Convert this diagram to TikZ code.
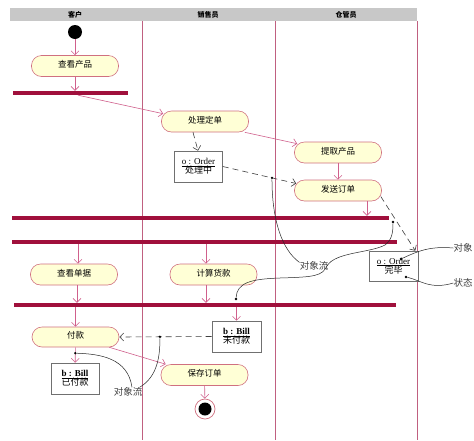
\documentclass[tikz,border=0pt]{standalone}
\usepackage{fontspec}
\setmainfont{Liberation Serif}
\newfontfamily\cjk{Noto Sans CJK SC}
\usetikzlibrary{arrows.meta,calc}
\definecolor{actb}{HTML}{D07080}
\definecolor{actf}{HTML}{FFFFD6}
\definecolor{arrc}{HTML}{D0608C}
\definecolor{barc}{HTML}{A0103C}
\definecolor{lanec}{HTML}{C06080}
\definecolor{hdrc}{HTML}{C8C8C8}
\definecolor{objb}{HTML}{707070}
\begin{document}
\begin{tikzpicture}[x=1pt,y=-1pt,
  act/.style={draw=actb, fill=actf, rounded corners=10pt, minimum width=87pt, minimum height=21pt, inner sep=0pt, text height=7.5pt, text depth=4pt, font=\cjk\fontsize{8.5}{9}\selectfont, line width=0.6pt},
  obj/.style={draw=objb, fill=white, minimum width=48pt, minimum height=31pt, inner sep=1pt, align=center, font=\fontsize{9}{9}\selectfont, line width=0.6pt},
  bar/.style={fill=barc, inner sep=0pt, minimum height=4pt},
  flow/.style={draw=arrc, line width=0.6pt, -{Straight Barb[length=4pt,width=8pt]}},
  oflow/.style={draw=black!75, line width=0.6pt, dash pattern=on 6pt off 4pt, -{Straight Barb[length=4pt,width=8pt]}},
  note/.style={draw=black!85, line width=0.5pt},
  dot/.style={circle, fill=black, inner sep=0pt, minimum size=2.6pt},
  lbl/.style={font=\cjk\fontsize{9.5}{10}\selectfont, text=black!75, inner sep=0pt},
  hlbl/.style={font=\cjk\bfseries\fontsize{7}{7}\selectfont, inner sep=0pt},
  lane/.style={draw=lanec, line width=0.7pt}]
\useasboundingbox (0,0) rectangle (474,440);
\fill[white] (0,0) rectangle (474,440);
% header
\node[fill=hdrc, minimum width=407pt, minimum height=13pt, inner sep=0pt, anchor=north west] (hdr) at (10,8) {};
\node[hlbl] (h1) at (75,14.5) {客户};
\node[hlbl] (h2) at (208,14.5) {销售员};
\node[hlbl] (h3) at (346,14.5) {仓管员};
% lanes
\coordinate (la1) at (142,21); \coordinate (lb1) at (142,440);
\coordinate (la2) at (275,21); \coordinate (lb2) at (275,440);
\coordinate (la3) at (417,21); \coordinate (lb3) at (417,440);
\draw[lane] (la1) -- (lb1);
\draw[lane] (la2) -- (lb2);
\draw[lane] (la3) -- (lb3);
% nodes
\node[dot, minimum size=14pt] (init) at (75,32) {};
\node[act] (n1) at (75,66) {查看产品};
\node[bar, minimum width=115pt] (f1) at (70.5,93) {};
\node[act] (n2) at (205,121.5) {处理定单};
\node[obj] (o1) at (198.5,166.5) {\underline{o : Order}\\[-1.5pt]{\cjk 处理中}};
\node[act] (n3) at (338,152.5) {提取产品};
\node[act] (n4) at (338,190.5) {发送订单};
\node[bar, minimum width=377pt] (f2) at (200.5,218) {};
\node[bar, minimum width=385pt] (f3) at (204.5,242) {};
\node[obj, minimum width=49pt, minimum height=30pt] (o2) at (393.5,266) {\underline{o : Order}\\[-1.5pt]{\cjk 完毕}};
\node[act] (n5) at (74,274.5) {查看单据};
\node[act] (n6) at (213.5,274.5) {计算货款};
\node[bar, minimum width=382pt] (f4) at (205,305) {};
\node[obj, minimum width=49pt] (o3) at (236.5,336.5) {\underline{\textbf{b : Bill}}\\[-1.5pt]{\cjk 未付款}};
\node[act, minimum height=20pt] (n7) at (75.5,337) {付款};
\node[act] (n8) at (204.5,375) {保存订单};
\node[obj] (o4) at (75,378.5) {\underline{\textbf{b : Bill}}\\[-1.5pt]{\cjk 已付款}};
\node[circle, draw=actb, line width=0.7pt, fill=white, minimum size=20pt, inner sep=0pt] (fin) at (205,409) {};
\node[dot, minimum size=13pt] (finc) at (fin) {};
% control flows
\draw[flow] (init) -- (n1);
\draw[flow] (n1) -- (n1 |- f1.north);
\draw[flow] ([xshift=7.5pt]f1.south) -- ($(n2.north west)+(2,3)$);
\draw[oflow] ([xshift=-12pt]n2.south) -- ([xshift=-0.5pt]o1.north);
\draw[flow] ([xshift=-4pt]n2.south east) -- ($(n3.north west)+(3,2)$);
\draw[flow] (n3) -- (n4);
\draw[oflow] (o1.east) -- ($(n4.west)+(2,-7)$) node[pos=0.67, dot] (d1) {};
\draw[flow] ([xshift=29pt]n4.south) -- ([xshift=29pt]n4.south |- f2.north);
\draw[oflow] ($(n4.east)+(-1,6)$) -- ([xshift=-3pt]o2.north east);
\draw[flow] ([xshift=4pt]n5.north |- f3.south) -- ([xshift=4pt]n5.north);
\draw[flow] ([xshift=-7.5pt]n6.north |- f3.south) -- ([xshift=-7.5pt]n6.north);
\draw[flow] ([xshift=3pt]n5.south) -- ([xshift=3pt]n5.south |- f4.north);
\draw[flow] ([xshift=-7.5pt]n6.south) -- ([xshift=-7.5pt]n6.south |- f4.north);
\draw[flow] (o3.north |- f4.south) -- (o3.north);
\draw[flow] (n7.north |- f4.south) -- (n7.north);
\draw[oflow] (o3.west) -- (n7.east) node[pos=0.56, dot] (d3) {};
\draw[flow] ($(n7.south east)+(-10,0)$) -- ($(n8.north west)+(5,0)$);
\draw[flow] (n7) -- (o4) node[pos=0.38, dot] (d4) {};
\draw[flow] (n8) -- (fin);
% annotations
\node[lbl] (l1) at (128,392) {对象流};
\node[lbl] (l2) at (314,266) {对象流};
\node[lbl] (l3) at (463,248) {对象};
\node[lbl] (l4) at (463,283) {状态};
\node[dot] (d2) at (393,222) {};
\node[dot] (d5) at (236,299) {};
\node[dot] (d6) at (401,259) {};
\node[dot] (d7) at (406,277) {};
\draw[note] (d4) .. controls (100,354) and (128,358) .. ($(l1.north)+(4,0)$);
\draw[note] (d3) .. controls (160,362) and (155,378) .. ($(l1.north east)+(-3,0)$);
\draw[note] (d1) .. controls (272,220) and (282,250) .. ($(l2.north west)+(0,1)$);
\draw[note] (d5) .. controls (237,283) and (250,279) .. (280,278) .. controls (315,277) and (322,276) .. (327,266) .. controls (335,252) and (370,253) .. (385,245) .. controls (392,240) and (393,232) .. (d2);
\draw[note] (d6) .. controls (418,251) and (430,246) .. (l3.west);
\draw[note] (d7) .. controls (420,280) and (430,290) .. (l4.west);
\end{tikzpicture}
\end{document}
